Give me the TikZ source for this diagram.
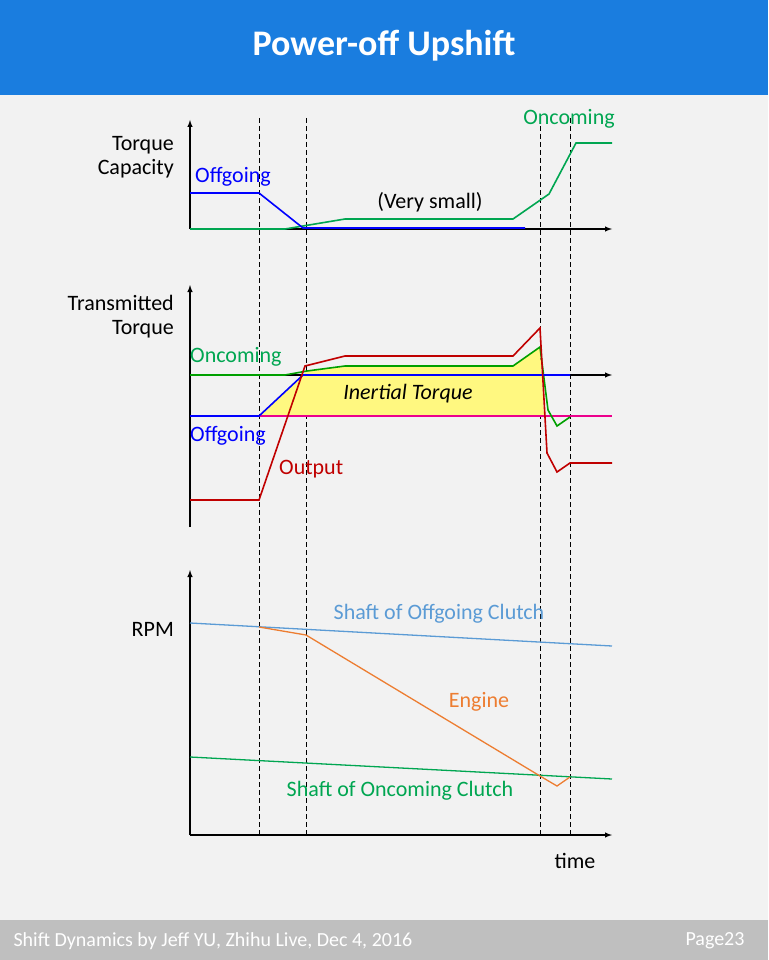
\documentclass[tikz,border=0pt]{standalone}
\usepackage{fontspec}
\setmainfont{Carlito}
\begin{document}
\begin{tikzpicture}[x=1pt,y=-1pt,
 ax/.style={black,line width=1.4pt,-latex},
 dsh/.style={black,dash pattern=on 5pt off 3pt,line width=0.7pt},
 lab/.style={font=\fontsize{22}{24}\selectfont,inner sep=0pt},
 cv/.style={line width=1.6pt}]
\definecolor{bg}{HTML}{F2F2F2}\definecolor{tb}{HTML}{1A7DDF}
\definecolor{gr}{HTML}{00A651}\definecolor{bl}{HTML}{0000FF}
\definecolor{rd}{HTML}{C00000}\definecolor{lb}{HTML}{5B9BD5}
\definecolor{og}{HTML}{ED7D31}\definecolor{ft}{HTML}{BFBFBF}
\definecolor{dg}{HTML}{00A000}
\useasboundingbox (0,0) rectangle (768,960);
\fill[bg] (0,0) rectangle (768,960);
\fill[tb] (0,0) rectangle (768,95);
\node[white,font=\fontsize{36}{40}\selectfont\bfseries] (title) at (384,46) {Power-off Upshift};
\fill[ft] (0,920) rectangle (768,960);
\node[white,anchor=west,font=\fontsize{20}{22}\selectfont] (foot) at (10,941) {Shift Dynamics by Jeff YU, Zhihu Live, Dec 4, 2016};
\node[white,anchor=east,font=\fontsize{20}{22}\selectfont] (page) at (748,941) {Page23};
% dashed
\foreach \x in {259,306,540,570} \draw[dsh] (\x,118) -- (\x,836);
% --- top plot
\fill[yellow!50!white] (259,416) -- (303,375) -- (307,371) -- (345,366) -- (513,366) -- (540,347) -- (544,416) -- cycle;
\draw[ax] (190,229) -- (612,229);
\draw[ax] (190,229) -- (190,120);
\draw[cv,gr] (190,229) -- (285,229) -- (345,219) -- (513,219) -- (549,194) -- (576,143) -- (612,143);
\draw[cv,bl] (190,193) -- (259,193) -- (303,228) -- (525,228);
\node[lab,align=right,anchor=east] (tc) at (174,157) {Torque\\Capacity};
\node[lab,bl,anchor=west] (off1) at (195,177) {Offgoing};
\node[lab,anchor=center] (vs) at (430,202) {(Very small)};
\node[lab,gr] (on1) at (569,119) {Oncoming};
% --- middle plot
\draw[ax] (190,527) -- (190,285);
\draw[ax] (190,375) -- (612,375);
\draw[cv,magenta] (259,416) -- (612,416);
\draw[cv,dg] (190,375) -- (285,375) -- (307,371) -- (345,366) -- (513,366) -- (540,347) -- (548,410) -- (557,426) -- (570,417);
\draw[cv,bl] (190,416) -- (259,416) -- (303,375) -- (570,375);
\draw[cv,rd] (190,500) -- (259,500) -- (305,366) -- (345,356) -- (513,356) -- (540,328) -- (547,453) -- (557,472) -- (570,463) -- (612,463);
\node[lab,align=right,anchor=east] (tt) at (174,317) {Transmitted\\Torque};
\node[lab,gr,anchor=west] (on2) at (190,357) {Oncoming};
\node[lab,bl,anchor=west] (off2) at (190,436) {Offgoing};
\node[lab,rd,anchor=west] (out) at (279,469) {Output};
\node[lab,font=\fontsize{22}{24}\selectfont\itshape] (it) at (408,394) {Inertial Torque};
% --- bottom plot
\draw[ax] (190,835) -- (190,570);
\draw[ax] (190,835) -- (612,835);
\draw[cv,lb,line width=1.3pt] (190,623) -- (612,646);
\draw[cv,gr,line width=1.3pt] (190,757) -- (612,779);
\draw[cv,og,line width=1.3pt] (259,627) -- (306,635) -- (540,776) -- (557,786) -- (570,777);
\node[lab,anchor=east] (rpm) at (174,629) {RPM};
\node[lab,lb] (sho) at (439,614) {Shaft of Offgoing Clutch};
\node[lab,og] (eng) at (479,702) {Engine};
\node[lab,gr] (shc) at (400,791) {Shaft of Oncoming Clutch};
\node[lab] (time) at (575,861) {time};
\end{tikzpicture}
\end{document}
